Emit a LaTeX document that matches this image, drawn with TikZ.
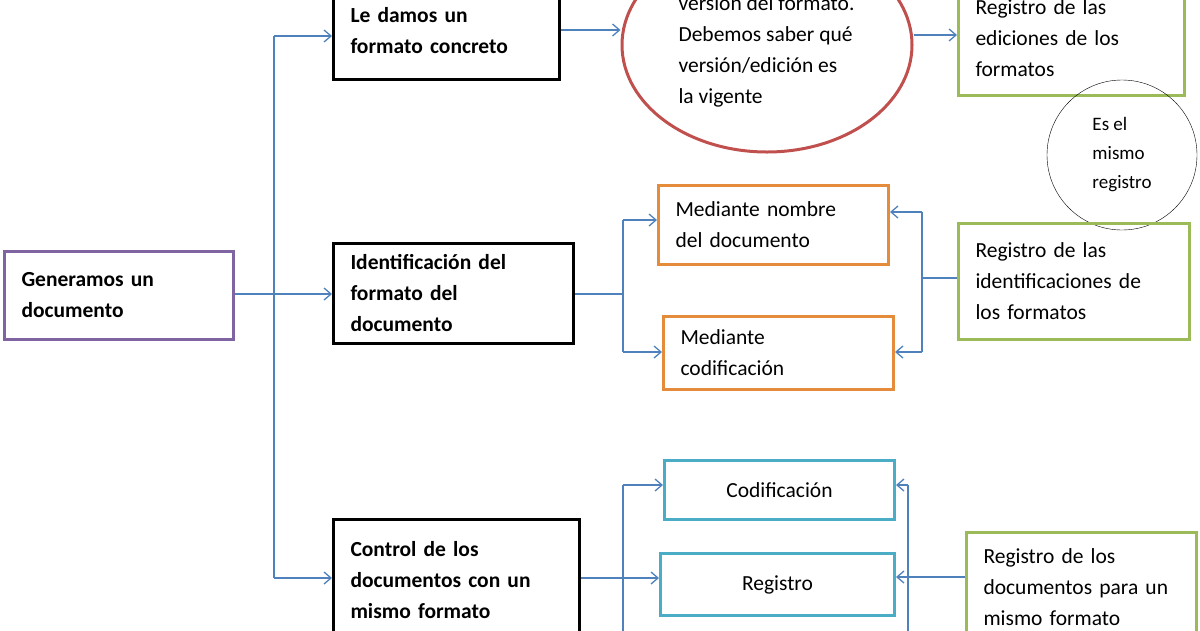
\documentclass[tikz,border=0pt]{standalone}
\usepackage{fontspec}
\setmainfont{Carlito}
\usetikzlibrary{arrows.meta, positioning, calc, shapes.geometric}
\definecolor{lineblue}{RGB}{79,129,189}
\definecolor{boxpurple}{RGB}{128,100,162}
\definecolor{boxred}{RGB}{192,80,77}
\definecolor{boxgreen}{RGB}{155,187,89}
\definecolor{boxorange}{RGB}{228,140,60}
\definecolor{boxcyan}{RGB}{75,172,198}
\begin{document}
\begin{tikzpicture}[x=1pt, y=-1pt, font=\fontsize{21.5}{31}\selectfont,
  box/.style = {draw, line width=3pt, inner xsep=17pt, align=left, anchor=north west},
  stage/.style = {box, black, text=black, font=\fontsize{21.5}{31}\selectfont\bfseries},
  src/.style = {box, boxgreen, text=black},
  way/.style = {box, boxorange, text=black},
  item/.style = {draw, boxcyan, line width=3pt, text=black, anchor=north west, align=center},
  arrow/.style = {-{Straight Barb[length=7pt, width=12pt]}, lineblue, line width=1.3pt},
  link/.style = {lineblue, line width=1.3pt}
]
\clip (0,0) rectangle (1200,630);
% main flow
\node[box, boxpurple, text=black, font=\fontsize{21.5}{31}\selectfont\bfseries, text width=195pt, minimum height=88pt] (generate) at (3,250) {Generamos un\\documento};
\node[stage, text width=192pt, minimum height=98pt] (format) at (332,-20) {Le damos un\\formato concreto};
\node[stage, text width=206pt, minimum height=100pt] (ident) at (332,242) {Identificación del\\formato del\\documento};
\node[stage, text width=212pt, minimum height=122pt] (control) at (332,518) {Control de los\\documentos con un\\mismo formato};
\coordinate (trunk) at (274,294);
\draw[link] (generate.east |- trunk) -- (trunk);
\draw[link] (274,36) -- (274,578);
\draw[arrow] (274,36) -- (format.west |- 0,36);
\draw[arrow] (trunk) -- (ident.west |- trunk);
\draw[arrow] (274,578) -- (control.west |- 0,578);
% editions
\node[draw, boxred, line width=3pt, ellipse, minimum width=290pt, minimum height=214pt] (edition) at (767,45) {};
\node[anchor=north west, align=left, text=black] (editiontext) at (675,-8) {versión del formato.\\Debemos saber qué\\versión/edición es\\la vigente};
\draw[arrow] (format.east |- 0,30) -- (edition.west |- 0,30);
\node[src, text width=192pt, minimum height=114pt] (editreg) at (957,-20) {Registro de las\\ediciones de los\\formatos};
\draw[arrow] (edition.east |- 0,35) -- (editreg.west |- 0,35);
\node[draw, circle, thin, minimum size=150pt, font=\fontsize{19}{29}\selectfont, align=left] (same) at (1122,155) {Es el\\mismo\\registro};
% identification
\node[way, text width=196pt, minimum height=79pt] (byname) at (657,184) {Mediante nombre\\del documento};
\node[way, text width=196pt, minimum height=73pt] (bycode) at (662,315) {Mediante\\codificación};
\coordinate (identsplit) at (623,294);
\draw[link] (ident.east |- identsplit) -- (identsplit);
\draw[link] (623,220) -- (623,352);
\draw[arrow] (623,220) -- (byname.west |- 0,220);
\draw[arrow] (623,352) -- (bycode.west |- 0,352);
\node[src, text width=197pt, minimum height=116pt] (identreg) at (957,222) {Registro de las\\identificaciones de\\los formatos};
\coordinate (identback) at (922,278);
\draw[link] (identreg.west |- identback) -- (identback);
\draw[link] (922,212) -- (922,352);
\draw[arrow] (922,212) -- (byname.east |- 0,212);
\draw[arrow] (922,352) -- (bycode.east |- 0,352);
% control
\node[item, minimum width=230pt, minimum height=59pt] (coding) at (663,459) {Codificación};
\node[item, minimum width=234pt, minimum height=62pt] (register) at (659,552) {Registro};
\draw[link] (623,485) -- (623,640);
\draw[arrow] (623,485) -- (coding.west |- 0,485);
\draw[arrow] (control.east |- 0,578) -- (register.west |- 0,578);
\node[src, text width=196pt, minimum height=110pt] (docreg) at (965,531) {Registro de los\\documentos para un\\mismo formato};
\draw[link] (908,485) -- (908,640);
\draw[arrow] (908,485) -- (coding.east |- 0,485);
\draw[arrow] (docreg.west |- 0,577) -- (register.east |- 0,577);
\end{tikzpicture}
\end{document}
